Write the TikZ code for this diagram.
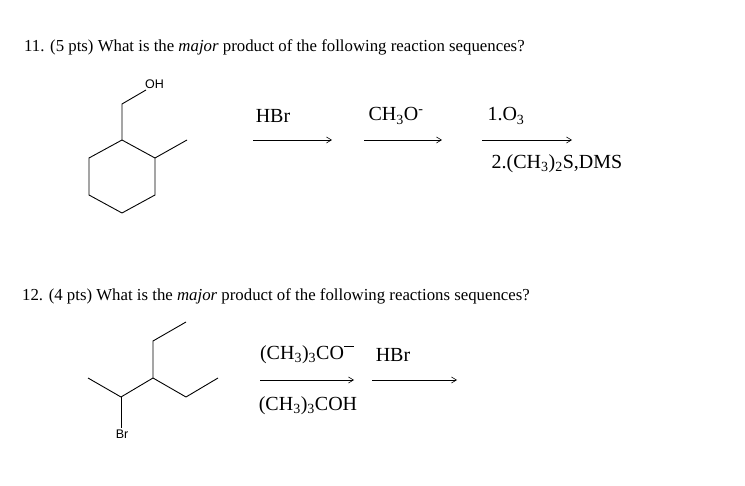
\documentclass[tikz,border=0pt]{standalone}
\usepackage{fontspec}
\setmainfont{Liberation Serif}
\newfontfamily\labsf{Liberation Sans}
\usetikzlibrary{arrows.meta}
\begin{document}
\begin{tikzpicture}[x=1pt,y=-1pt,
  bond/.style={line width=0.9pt},
  rxn/.style={line width=0.6pt,-{Straight Barb[length=5pt,width=6pt]}},
  q/.style={font=\fontsize{16.8}{19}\selectfont,anchor=west,inner sep=0},
  chem/.style={font=\fontsize{20}{22}\selectfont,inner sep=0},
  atom/.style={font=\labsf\fontsize{12.5}{14}\selectfont,inner sep=1pt}]
\useasboundingbox (0,0) rectangle (745,486);
\node[q] (q11) at (24,47) {11. (5 pts) What is the \textit{major} product of the following reaction sequences?};
% molecule 1
\coordinate (a1) at (122,140); \coordinate (a2) at (155,158); \coordinate (a3) at (155,195);
\coordinate (a4) at (122,213); \coordinate (a5) at (89,195); \coordinate (a6) at (89,158);
\draw[bond,line join=round] (a1)--(a2)--(a3)--(a4)--(a5)--(a6)--cycle;
\coordinate (b1) at (122,104); \coordinate (b2) at (146,90); \coordinate (m1) at (187,140);
\node[atom,anchor=west] (oh) at (144,84) {OH};
\draw[bond] (a1)--(b1)--(b2);
\draw[bond] (a2)--(m1);
% arrows 1
\coordinate (r1s) at (253,140); \coordinate (r1e) at (332,140);
\coordinate (r2s) at (364,140); \coordinate (r2e) at (442,140);
\coordinate (r3s) at (482,140); \coordinate (r3e) at (572,140);
\draw[rxn] (r1s)--(r1e); \draw[rxn] (r2s)--(r2e); \draw[rxn] (r3s)--(r3e);
\node[chem] (hbr1) at (273,116) {HBr};
\node[chem] (meo) at (396,116) {CH\textsubscript{3}O\textsuperscript{-}};
\node[chem] (o3) at (506,116) {1.O\textsubscript{3}};
\node[chem] (dms) at (557,164) {2.(CH\textsubscript{3})\textsubscript{2}S,DMS};
\node[q] (q12) at (22,296) {12. (4 pts) What is the \textit{major} product of the following reactions sequences?};
% molecule 2
\coordinate (c1) at (88,378); \coordinate (c2) at (121,397); \coordinate (c3) at (121,428);
\coordinate (c4) at (153,378); \coordinate (c5) at (153,341); \coordinate (c6) at (186,322);
\coordinate (c7) at (186,397); \coordinate (c8) at (218,378);
\draw[bond,line join=round] (c1)--(c2)--(c4)--(c5)--(c6);
\draw[bond,line join=round] (c4)--(c7)--(c8);
\draw[bond] (c2)--(c3);
\node[atom,anchor=north] (br) at (122,429) {Br};
% arrows 2
\coordinate (s1s) at (260,380); \coordinate (s1e) at (354,380);
\coordinate (s2s) at (372,380); \coordinate (s2e) at (457,380);
\draw[rxn] (s1s)--(s1e); \draw[rxn] (s2s)--(s2e);
\node[chem] (tbuo) at (307,355) {(CH\textsubscript{3})\textsubscript{3}CO\rule[13pt]{10pt}{0.9pt}};
\node[chem] (tbuoh) at (308,406) {(CH\textsubscript{3})\textsubscript{3}COH};
\node[chem] (hbr2) at (393,355) {HBr};
\end{tikzpicture}
\end{document}
